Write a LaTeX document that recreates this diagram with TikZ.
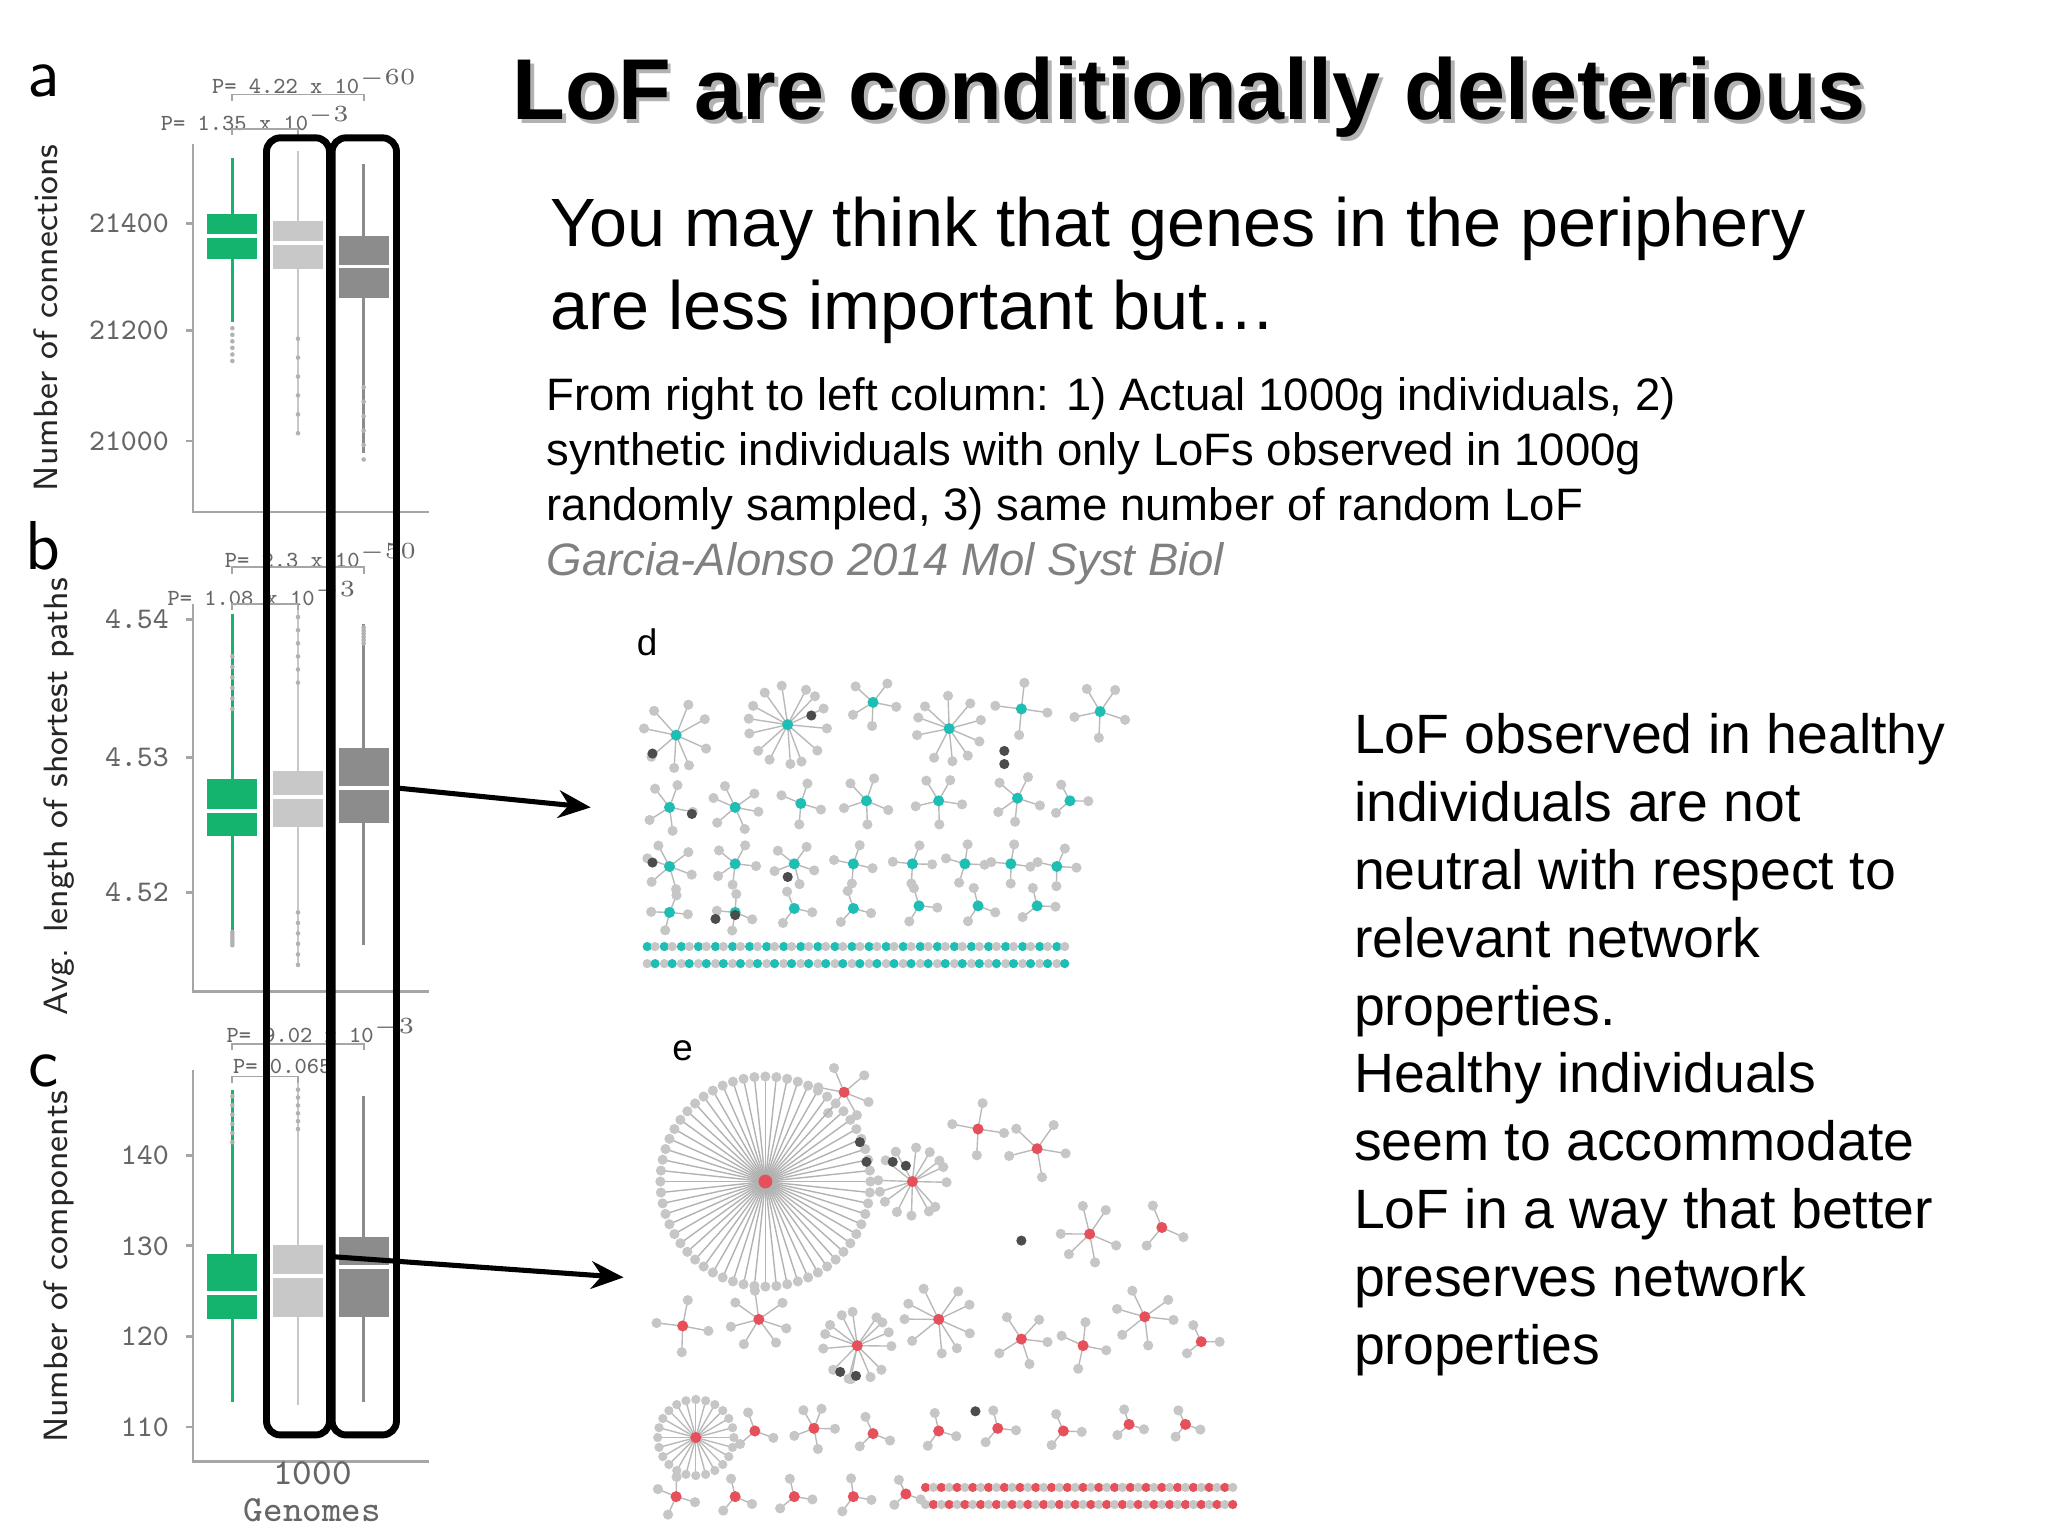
\documentclass[tikz,border=0pt]{standalone}
\usepackage{fontspec}
\setmainfont{Liberation Sans}
\usetikzlibrary{arrows.meta}
\definecolor{grn}{RGB}{20,180,110}
\definecolor{lg}{RGB}{200,200,200}
\definecolor{dg}{RGB}{140,140,140}
\definecolor{teal}{RGB}{30,190,180}
\definecolor{rd}{RGB}{230,80,90}
\begin{document}
\begin{tikzpicture}[x=0.01cm,y=-0.01cm,
  ax/.style={gray!70,line width=0.6pt},
  tick/.style={font=\fontsize{6.5}{7}\selectfont\ttfamily,text=gray!80!black,anchor=east},
  plab/.style={font=\fontsize{5}{6}\selectfont\ttfamily,text=gray!80!black},
  ylab/.style={rotate=90,font=\fontsize{7.3}{8}\selectfont\sffamily,text=gray!30!black},
  let/.style={font=\fontsize{15}{15}\selectfont\sffamily},
  hl/.style={draw=black,line width=1.5pt,rounded corners=3pt},
  edge/.style={gray!55,line width=0.3pt},
  conn/.style={-{Stealth[length=7pt,width=6pt]},line width=1.1pt},
  rtext/.style={anchor=north west,align=left,font=\fontsize{12}{14.7}\selectfont}]
\useasboundingbox (0,0) rectangle (1560,1170);
\fill[white] (0,0) rectangle (1560,1170);
% panel letters
\node[let] (la) at (33,62) {a};
\node[let] (lb) at (33,416) {b};
\node[let] (lc) at (33,816) {c};
\node[ylab] (ya) at (35,242) {Number of connections};
\node[ylab] (yb) at (45,607) {Avg. length of shortest paths};
\node[ylab] (yc) at (45,965) {Number of components};
% axes
\draw[ax] (147,110) -- (147,390) -- (327,390);
\draw[ax] (147,460) -- (147,755) -- (327,755);
\draw[ax] (147,815) -- (147,1113) -- (327,1113);
\foreach \v/\y in {21400/170,21200/252,21000/336}{\draw[ax] (142,\y)--(147,\y); \node[tick] (t\v) at (141,\y) {\v};}
\foreach \v/\n/\y in {4.54/a/472,4.53/b/577,4.52/c/680}{\draw[ax] (142,\y)--(147,\y); \node[tick] (tb\n) at (141,\y) {\v};}
\foreach \v/\y in {140/880,130/949,120/1018,110/1087}{\draw[ax] (142,\y)--(147,\y); \node[tick] (tc\v) at (141,\y) {\v};}
\node[font=\fontsize{8}{8}\selectfont\ttfamily,align=center,text=gray!80!black] (xl) at (238,1136) {1000\\Genomes};
% boxplots
\foreach \x/\lo/\q/\m/\qq/\hi/\c in {
 177/120/163/180/197/245/grn, 227/115/168/185/205/330/lg, 277/125/180/203/227/345/dg,
 177/468/593/618/637/720/grn, 227/465/587/607/630/735/lg, 277/475/570/600/627/720/dg,
 177/830/955/985/1005/1068/grn, 227/825/948/972/1003/1070/lg, 277/835/942/965/1003/1068/dg}{
  \draw[\c,line width=0.6pt] (\x,\lo)--(\x,\hi);
  \fill[\c] (\x-19,\q) rectangle (\x+19,\qq);
  \draw[white,line width=0.8pt] (\x-19,\m)--(\x+19,\m);
}
\foreach \x/\a/\b in {177/250/275,227/258/330,277/295/350,177/500/540,227/470/520,227/695/735,277/478/490,177/710/720,227/830/860,177/835/870}{
  \foreach \t in {0,0.2,...,1}{\fill[gray!60] (\x,{\a+\t*(\b-\a)}) circle[radius=0.5pt];}}
% p-value labels
\node[plab] (pa1) at (240,62) {P= 4.22 x 10$^{-60}$};
\node[plab] (pa2) at (195,90) {P= 1.35 x 10$^{-3}$};
\node[plab] (pb1) at (245,423) {P= 2.3 x 10$^{-50}$};
\node[plab] (pb2) at (200,452) {P= 1.08 x 10$^{-3}$};
\node[plab] (pc1) at (245,785) {P= 9.02 x 10$^{-3}$};
\node[plab] (pc2) at (215,812) {P= 0.065};
\foreach \y in {72,432,795}{\draw[gray!70] (177,\y+5)--(177,\y)--(277,\y)--(277,\y+5);}
\foreach \y in {98,460,820}{\draw[gray!70] (177,\y+5)--(177,\y)--(227,\y)--(227,\y+5);}
% highlight boxes
\draw[hl] (203,105) rectangle (251,1093);
\draw[hl] (253,105) rectangle (302,1093);
% title & texts
\node[anchor=west,font=\fontsize{18.7}{22}\selectfont\bfseries,text=gray!60] (tsh) at (381,77) {LoF are conditionally deleterious};
\node[anchor=west,font=\fontsize{18.7}{22}\selectfont\bfseries] (title) at (378,74) {LoF are conditionally deleterious};
\node[rtext,font=\fontsize{14.8}{17.8}\selectfont] (sub) at (407,138) {You may think that genes in the periphery\\are less important but\ldots};
\node[rtext,font=\fontsize{9.85}{11.9}\selectfont] (desc) at (404,275) {From right to left column: 1) Actual 1000g individuals, 2)\\synthetic individuals with only LoFs observed in 1000g\\randomly sampled, 3) same number of random LoF\\\textcolor{gray}{\itshape Garcia-Alonso 2014 Mol Syst Biol}};
\node[rtext] (right) at (1019,531) {LoF observed in healthy\\individuals are not\\neutral with respect to\\relevant network\\properties.\\Healthy individuals\\seem to accommodate\\LoF in a way that better\\preserves network\\properties};
\node[font=\fontsize{8}{8}\selectfont] (ld) at (493,489) {d};
\node[font=\fontsize{8}{8}\selectfont] (le) at (520,800) {e};
% networks
\pgfmathsetseed{7}
\foreach \cx/\cy/\n/\r/\c in {
 515/560/8/25/teal, 600/552/14/30/teal, 665/535/5/18/teal, 723/555/10/25/teal, 778/540/4/20/teal, 838/542/5/20/teal,
 510/615/5/18/teal, 560/615/6/18/teal, 610/612/4/16/teal, 660/610/5/18/teal, 715/610/5/18/teal, 775/608/5/18/teal, 815/610/3/14/teal,
 510/660/6/18/teal, 560/658/5/16/teal, 605/658/5/16/teal, 650/658/4/15/teal, 695/658/4/15/teal, 735/658/4/15/teal, 770/658/4/15/teal, 805/660/4/15/teal,
 510/695/4/14/teal, 560/695/4/14/teal, 605/692/3/14/teal, 650/692/3/14/teal, 700/690/3/14/teal, 745/690/3/14/teal, 790/690/3/14/teal,
 643/832/6/20/rd, 695/900/14/26/rd, 745/860/4/20/rd, 790/875/5/22/rd, 830/940/6/22/rd, 885/935/3/18/rd,
 520/1010/4/20/rd, 578/1005/7/22/rd, 653/1025/14/26/rd, 715/1005/9/26/rd, 778/1020/5/20/rd, 825/1025/4/18/rd, 872/1003/6/22/rd, 915/1022/3/14/rd,
 575/1090/3/15/rd, 620/1088/5/16/rd, 665/1092/3/14/rd, 715/1090/3/14/rd, 760/1088/3/14/rd, 810/1090/3/14/rd, 860/1085/3/12/rd, 903/1085/3/12/rd,
 515/1140/4/15/rd, 560/1140/3/14/rd, 605/1140/3/14/rd, 650/1140/3/14/rd, 690/1138/3/12/rd}{
  \foreach \k in {1,...,\n}{
    \pgfmathsetmacro\ang{360*\k/\n+rnd*25}
    \draw[edge] (\cx,\cy) -- ++(\ang:\r);
    \fill[gray!45] (\cx,\cy) ++(\ang:\r) circle[radius=1.1pt];
  }
  \fill[\c] (\cx,\cy) circle[radius=1.2pt];
}
% big star in e
\foreach \k in {1,...,60}{
  \draw[edge,gray!60] (583,900) -- ++(\k*6:78);
  \fill[gray!45] (583,900) ++(\k*6:80) circle[radius=1.1pt];
}
\fill[rd] (583,900) circle[radius=1.5pt];
\foreach \k in {1,...,24}{\draw[edge] (530,1095) -- ++(\k*15:28); \fill[gray!45] (530,1095) ++(\k*15:29) circle[radius=1pt];}
\fill[rd] (530,1095) circle[radius=1.2pt];
% black dots
\foreach \x/\y in {497/574,527/620,497/657,545/700,560/697,618/545,765/572,765/582,655/870,660/885,680/885,690/888,640/1045,652/1048,778/945,743/1075,600/668}{\fill[black!70] (\x,\y) circle[radius=1.1pt];}
% dot rows
\foreach \i in {0,...,24}{\fill[teal] (493+\i*13,721) circle[radius=1pt]; \fill[gray!45] (499+\i*13,721) circle[radius=1pt];
  \fill[gray!45] (493+\i*13,734) circle[radius=1pt]; \fill[teal] (499+\i*13,734) circle[radius=1pt];}
\foreach \i in {0,...,19}{\fill[rd] (705+\i*12,1133) circle[radius=1pt]; \fill[gray!45] (711+\i*12,1133) circle[radius=1pt];
  \fill[gray!45] (705+\i*12,1146) circle[radius=1pt]; \fill[rd] (711+\i*12,1146) circle[radius=1pt];}
% connectors
\coordinate (sb) at (300,600); \coordinate (eb) at (450,615);
\coordinate (sc) at (250,957); \coordinate (ec) at (475,973);
\draw[conn] (sb) -- (eb);
\draw[conn] (sc) -- (ec);
\end{tikzpicture}
\end{document}
